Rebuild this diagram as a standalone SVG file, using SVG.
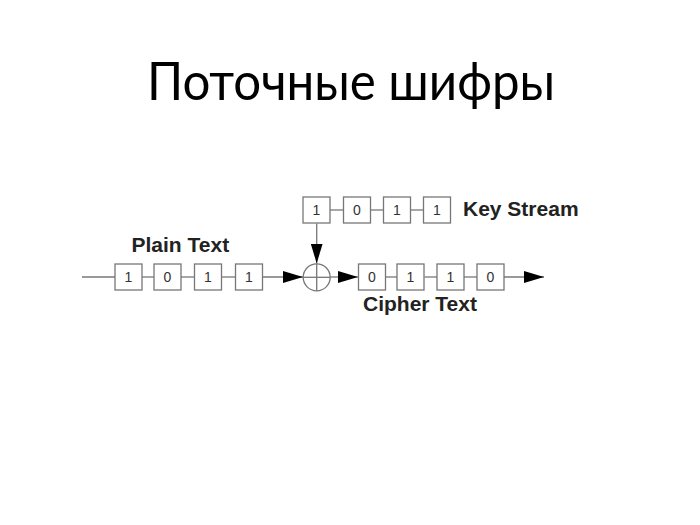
<svg xmlns="http://www.w3.org/2000/svg" width="700" height="525" viewBox="0 0 700 525">
<defs>
<style>
.title{font-family:Lato,"Open Sans","Liberation Sans",sans-serif;font-size:52px;fill:#000}
.lbl{font-family:"Liberation Sans",Arial,sans-serif;font-size:21px;font-weight:bold;fill:#222}
.box rect{fill:#fff;stroke:#777;stroke-width:1.3}
.box text{font-family:"Liberation Sans",Arial,sans-serif;font-size:14px;fill:#333;text-anchor:middle}
.ln{stroke:#777;stroke-width:1.3;fill:none}
</style>
<marker id="ahb" viewBox="0 0 20 12" refX="20" refY="6" markerWidth="20" markerHeight="12" markerUnits="userSpaceOnUse" orient="auto">
<path d="M0,0 L20,6 L0,12 Z" fill="#000"/>
</marker>
</defs>
<rect width="700" height="525" fill="#fff"/>
<text class="title" x="351" y="100" text-anchor="middle" textLength="408" lengthAdjust="spacingAndGlyphs">Поточные шифры</text>

<g id="connectors">
<line class="ln" x1="82" y1="277" x2="115" y2="277"/>
<line class="ln" x1="141.5" y1="277" x2="154" y2="277"/>
<line class="ln" x1="181" y1="277" x2="194" y2="277"/>
<line class="ln" x1="221.5" y1="277" x2="235" y2="277"/>
<line class="ln" x1="262.5" y1="277" x2="303" y2="277" marker-end="url(#ahb)"/>
<line class="ln" x1="330.5" y1="277" x2="358" y2="277" marker-end="url(#ahb)"/>
<line class="ln" x1="385" y1="277" x2="397" y2="277"/>
<line class="ln" x1="424.5" y1="277" x2="437" y2="277"/>
<line class="ln" x1="463.5" y1="277" x2="477" y2="277"/>
<line class="ln" x1="504" y1="277" x2="544" y2="277" marker-end="url(#ahb)"/>
<line class="ln" x1="330" y1="210" x2="343.5" y2="210"/>
<line class="ln" x1="370" y1="210" x2="383.5" y2="210"/>
<line class="ln" x1="410.5" y1="210" x2="423.5" y2="210"/>
<line class="ln" x1="316.7" y1="223.5" x2="316.7" y2="263.5" marker-end="url(#ahb)"/>
</g>

<g id="xor">
<circle cx="316.7" cy="277.3" r="13.5" fill="none" stroke="#777" stroke-width="1.3"/>
<line class="ln" x1="303.2" y1="277.3" x2="330.2" y2="277.3"/>
<line class="ln" x1="316.7" y1="263.8" x2="316.7" y2="290.8"/>
</g>

<g id="plain" class="box">
<rect x="115" y="264" width="27" height="26"/><text x="128.5" y="282">1</text>
<rect x="154" y="264" width="27" height="26"/><text x="167.5" y="282">0</text>
<rect x="194.5" y="264" width="27" height="26"/><text x="208" y="282">1</text>
<rect x="235.5" y="264" width="27" height="26"/><text x="249" y="282">1</text>
</g>

<g id="key" class="box">
<rect x="303" y="197" width="27" height="26"/><text x="316.5" y="215">1</text>
<rect x="343.5" y="197" width="27" height="26"/><text x="357" y="215">0</text>
<rect x="383.5" y="197" width="27" height="26"/><text x="397" y="215">1</text>
<rect x="423.5" y="197" width="27" height="26"/><text x="437" y="215">1</text>
</g>

<g id="cipher" class="box">
<rect x="358.5" y="264" width="27" height="26"/><text x="372" y="282">0</text>
<rect x="397" y="264" width="27" height="26"/><text x="410.5" y="282">1</text>
<rect x="437" y="264" width="27" height="26"/><text x="450.5" y="282">1</text>
<rect x="477" y="264" width="27" height="26"/><text x="490.5" y="282">0</text>
</g>

<text class="lbl" x="131.5" y="252">Plain Text</text>
<text class="lbl" x="463" y="216">Key Stream</text>
<text class="lbl" x="363" y="311">Cipher Text</text>
</svg>
